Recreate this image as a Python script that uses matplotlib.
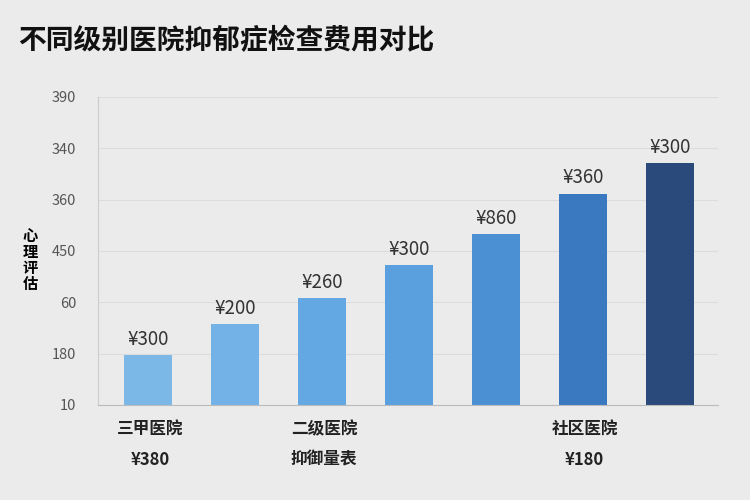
import matplotlib
matplotlib.use("Agg")
import matplotlib.pyplot as plt

plt.rcParams['font.family'] = ['Noto Sans CJK SC', 'DejaVu Sans']

values = [0.97, 1.58, 2.08, 2.72, 3.33, 4.12, 4.71]
bar_labels = ['¥300', '¥200', '¥260', '¥300', '¥860', '¥360', '¥300']
colors = ['#7bb8e8', '#72b2e6', '#63a8e2', '#5aa0de', '#4c90d4', '#3a78c0', '#2a4a7c']
ytick_labels = ['10', '180', '60', '450', '360', '340', '390']
xcats = {0: '三甲医院\n¥380', 2: '二级医院\n抑御量表', 5: '社区医院\n¥180'}

fig = plt.figure(figsize=(7.5, 5), dpi=100, facecolor='#ebebeb')
ax = fig.add_axes([0.131, 0.19, 0.826, 0.616], facecolor='#ebebeb')
x = list(range(len(values)))
bars = ax.bar(x, values, width=0.55, color=colors, zorder=2)
for xi, v, lab in zip(x, values, bar_labels):
    ax.text(xi, v + 0.1, lab, ha='center', va='bottom', fontsize=13.5, color='#333333')
ax.set_xlim(-0.575, 6.55)
ax.set_ylim(0, 6)
ax.set_yticks(range(7))
ax.set_yticklabels(ytick_labels, fontsize=10.5, color='#555555')
ax.set_xticks([])
ax.tick_params(axis='y', length=0, pad=16)
ax.grid(axis='y', color='#dcdcdc', lw=0.8, zorder=0)
for s in ['top', 'right']:
    ax.spines[s].set_visible(False)
ax.spines['left'].set_color('#cccccc')
ax.spines['bottom'].set_color('#bbbbbb')
for xi, t in xcats.items():
    ax.text(xi + 0.02, -0.3, t, ha='center', va='top', fontsize=12, fontweight='bold',
            color='#222222', linespacing=1.9, transform=ax.transData)
fig.text(0.04, 0.48, '心\n理\n评\n估', ha='center', va='center', fontsize=11,
         fontweight='bold', linespacing=1.0)
fig.text(0.024, 0.918, '不同级别医院抑郁症检查费用对比', fontsize=20, fontweight='bold',
         color='#111111', va='center')
fig.savefig('out.png', dpi=100, facecolor=fig.get_facecolor())
